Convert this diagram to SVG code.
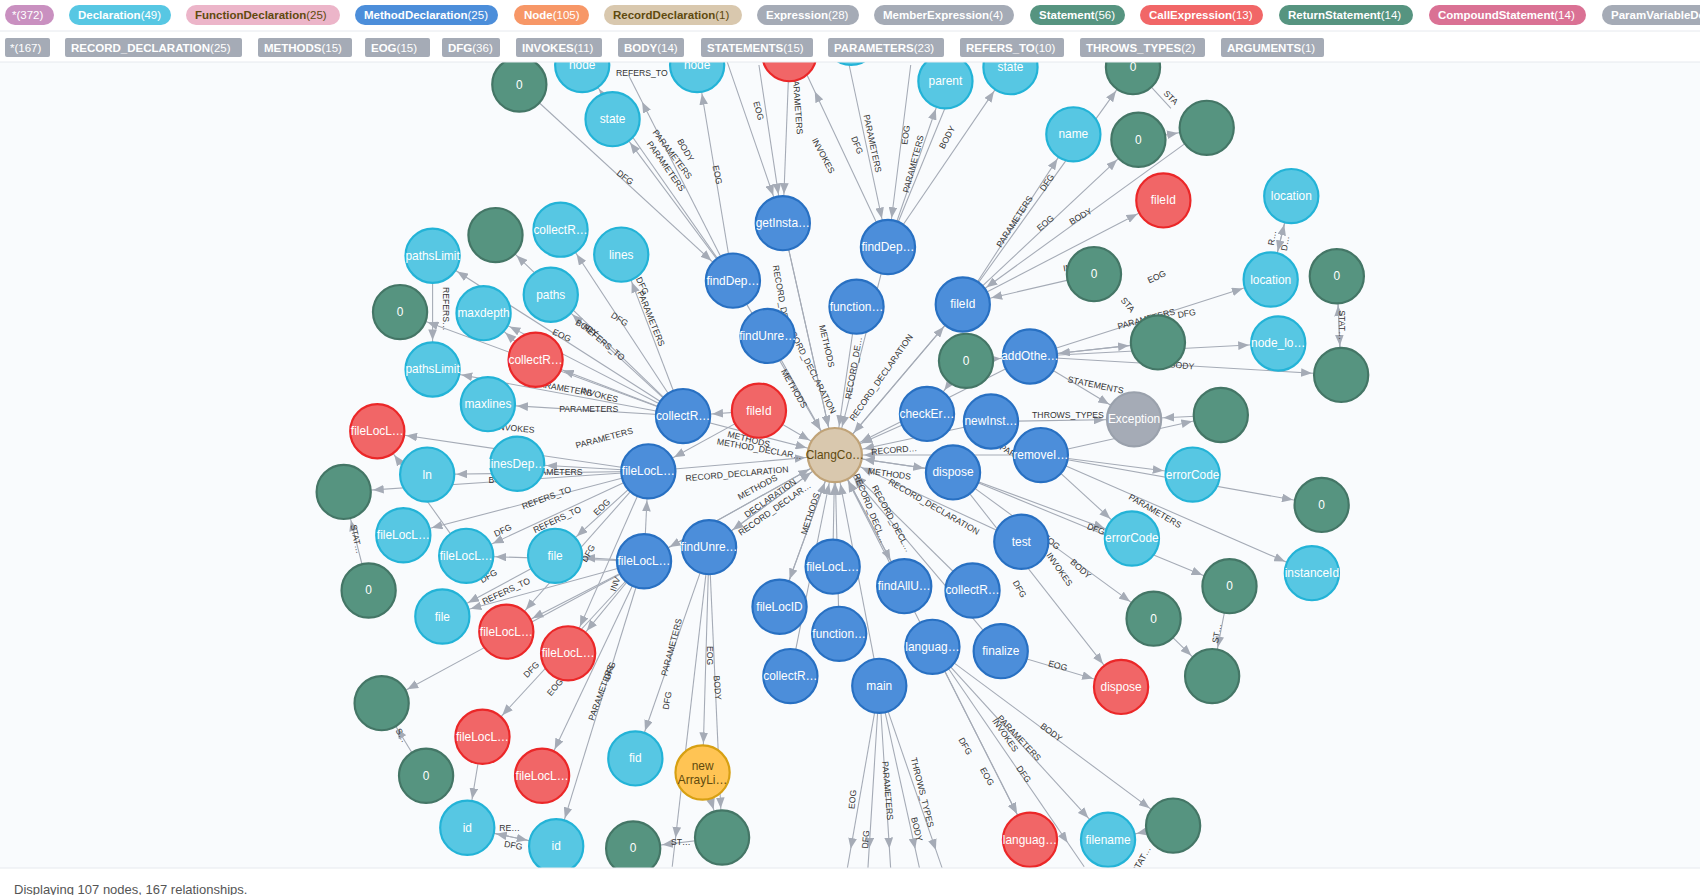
<svg xmlns="http://www.w3.org/2000/svg" width="1700" height="895" viewBox="0 0 1700 895">
<style>
text{font-family:"Liberation Sans",Arial,sans-serif}
.e line{stroke:#A5ABB6;stroke-width:1;fill:none}
.el{font-size:8px;fill:#333;text-anchor:middle}
.n circle{stroke-width:2}
.n text{font-size:11px;fill:#fff;text-anchor:middle;dominant-baseline:central}
.m circle{fill:#4C8EDA;stroke:#2870C2}
.d circle{fill:#57C7E3;stroke:#23B3D7}
.s circle{fill:#569480;stroke:#447666}
.c circle{fill:#F16667;stroke:#EB2728}
.r circle{fill:#D9C8AE;stroke:#C0A378}
.r text{fill:#604A0E}
.x circle{fill:#A5ABB6;stroke:#9AA1AC}
.o circle{fill:#FFC454;stroke:#D7A013}
.o text{fill:#604A0E}
.pill{font-size:11.5px;dominant-baseline:central}
.rel rect{fill:#A5ABB6}
.rel text{fill:#fff;font-size:11.5px;dominant-baseline:central}
</style>
<defs>
<marker id="a" markerUnits="userSpaceOnUse" viewBox="0 0 10 8" markerWidth="10" markerHeight="8" refX="37" refY="4" orient="auto"><path d="M0,0L10,4L0,8z" fill="#A5ABB6"/></marker>
</defs>
<rect width="1700" height="895" fill="#F9FBFD"/>
<g transform="scale(1.0842,1.0835)">
<g id="connectors" class="e" marker-end="url(#a)">
<line x1="630" y1="384" x2="770" y2="420"/><line x1="700" y1="379" x2="770" y2="420"/><line x1="598" y1="435" x2="770" y2="420"/>
<line x1="770" y1="420" x2="594" y2="518"/><line x1="594" y1="518" x2="770" y2="420"/><line x1="654" y1="505" x2="770" y2="420"/><line x1="770" y1="420" x2="654" y2="505"/>
<line x1="768" y1="523" x2="770" y2="420"/><line x1="770" y1="420" x2="719" y2="560"/><line x1="719" y1="560" x2="770" y2="420"/><line x1="834" y1="541" x2="770" y2="420"/><line x1="770" y1="420" x2="834" y2="541"/>
<line x1="897" y1="545" x2="770" y2="420"/><line x1="774" y1="585" x2="770" y2="420"/><line x1="860" y1="597" x2="770" y2="420"/><line x1="879" y1="436" x2="770" y2="420"/><line x1="770" y1="420" x2="879" y2="436"/>
<line x1="855" y1="382" x2="770" y2="420"/><line x1="914" y1="389" x2="770" y2="420"/><line x1="960" y1="420" x2="770" y2="420"/><line x1="942" y1="500" x2="770" y2="420"/>
<line x1="708" y1="310" x2="770" y2="420"/><line x1="790" y1="283" x2="770" y2="420"/><line x1="888" y1="281" x2="770" y2="420"/><line x1="770" y1="420" x2="888" y2="281"/><line x1="819" y1="228" x2="770" y2="420"/>
<line x1="722" y1="206" x2="770" y2="420"/><line x1="676" y1="259" x2="770" y2="420"/><line x1="950" y1="329" x2="770" y2="420"/><line x1="811" y1="633" x2="770" y2="420"/><line x1="729" y1="624" x2="770" y2="420"/><line x1="923" y1="601" x2="770" y2="420"/>
<line x1="700" y1="379" x2="630" y2="384"/><line x1="700" y1="379" x2="598" y2="435"/>
<line x1="728" y1="52" x2="722" y2="206"/><line x1="670" y1="55" x2="722" y2="206"/><line x1="700" y1="60" x2="722" y2="206"/><line x1="722" y1="206" x2="770" y2="420"/>
<line x1="780" y1="45" x2="819" y2="228"/><line x1="840" y1="60" x2="819" y2="228"/><line x1="819" y1="228" x2="872" y2="75"/><line x1="819" y1="228" x2="932" y2="62"/><line x1="819" y1="228" x2="740" y2="60"/><line x1="819" y1="228" x2="892" y2="50"/>
<line x1="676" y1="259" x2="643" y2="60"/><line x1="676" y1="259" x2="537" y2="60"/><line x1="676" y1="259" x2="565" y2="110"/><line x1="479" y1="78" x2="676" y2="259"/><line x1="676" y1="259" x2="580" y2="70"/>
<line x1="888" y1="281" x2="990" y2="124"/><line x1="888" y1="281" x2="1045" y2="62"/><line x1="888" y1="281" x2="1050" y2="129"/><line x1="888" y1="281" x2="1073" y2="185"/><line x1="1009" y1="253" x2="888" y2="281"/><line x1="1113" y1="118" x2="888" y2="281"/>
<line x1="950" y1="329" x2="1172" y2="258"/><line x1="950" y1="329" x2="1179" y2="317"/><line x1="950" y1="329" x2="1068" y2="316"/><line x1="950" y1="329" x2="1237" y2="346"/><line x1="1068" y1="316" x2="950" y2="329"/><line x1="891" y1="333" x2="950" y2="329"/>
<line x1="1191" y1="181" x2="1172" y2="258"/><line x1="1172" y1="258" x2="1191" y2="181"/><line x1="1233" y1="255" x2="1237" y2="346"/><line x1="1237" y1="346" x2="1233" y2="255"/>
<line x1="914" y1="389" x2="1046" y2="387"/><line x1="950" y1="329" x2="1046" y2="387"/><line x1="1126" y1="383" x2="1046" y2="387"/><line x1="1050" y1="129" x2="1113" y2="118"/><line x1="1045" y1="62" x2="1080" y2="100"/>
<line x1="960" y1="420" x2="1100" y2="438"/><line x1="960" y1="420" x2="1219" y2="466"/><line x1="960" y1="420" x2="1210" y2="529"/><line x1="960" y1="420" x2="1044" y2="497"/><line x1="960" y1="420" x2="1126" y2="383"/>
<line x1="879" y1="436" x2="1064" y2="571"/><line x1="879" y1="436" x2="1034" y2="634"/><line x1="879" y1="436" x2="1044" y2="497"/><line x1="879" y1="436" x2="1134" y2="541"/><line x1="891" y1="333" x2="855" y2="382"/>
<line x1="1134" y1="541" x2="1118" y2="624"/><line x1="1064" y1="571" x2="1118" y2="624"/><line x1="923" y1="601" x2="1034" y2="634"/>
<line x1="860" y1="597" x2="950" y2="775"/><line x1="860" y1="597" x2="950" y2="775"/><line x1="860" y1="597" x2="1022" y2="775"/><line x1="860" y1="597" x2="1082" y2="762"/><line x1="870" y1="610" x2="1000" y2="800"/><line x1="1082" y1="762" x2="1022" y2="775"/>
<line x1="811" y1="633" x2="800" y2="810"/><line x1="811" y1="633" x2="822" y2="810"/><line x1="811" y1="633" x2="850" y2="810"/><line x1="811" y1="633" x2="872" y2="810"/><line x1="811" y1="633" x2="780" y2="810"/>
<line x1="654" y1="505" x2="586" y2="700"/><line x1="654" y1="505" x2="648" y2="713"/><line x1="654" y1="505" x2="666" y2="773"/><line x1="648" y1="713" x2="666" y2="773"/><line x1="666" y1="773" x2="584" y2="783"/><line x1="654" y1="505" x2="620" y2="800"/>
<line x1="594" y1="518" x2="524" y2="603"/><line x1="594" y1="518" x2="467" y2="583"/><line x1="594" y1="518" x2="445" y2="680"/><line x1="594" y1="518" x2="500" y2="716"/><line x1="594" y1="518" x2="513" y2="781"/><line x1="594" y1="518" x2="352" y2="649"/><line x1="594" y1="518" x2="408" y2="569"/><line x1="594" y1="518" x2="512" y2="513"/><line x1="594" y1="518" x2="430" y2="513"/><line x1="594" y1="518" x2="598" y2="435"/>
<line x1="598" y1="435" x2="394" y2="438"/><line x1="598" y1="435" x2="477" y2="428"/><line x1="598" y1="435" x2="348" y2="398"/><line x1="598" y1="435" x2="317" y2="454"/><line x1="598" y1="435" x2="372" y2="494"/><line x1="598" y1="435" x2="430" y2="513"/><line x1="598" y1="435" x2="512" y2="513"/><line x1="598" y1="435" x2="467" y2="583"/><line x1="598" y1="435" x2="524" y2="603"/>
<line x1="630" y1="384" x2="450" y2="373"/><line x1="630" y1="384" x2="494" y2="332"/><line x1="630" y1="384" x2="446" y2="289"/><line x1="630" y1="384" x2="508" y2="272"/><line x1="630" y1="384" x2="573" y2="235"/><line x1="630" y1="384" x2="517" y2="212"/><line x1="630" y1="384" x2="399" y2="341"/><line x1="630" y1="384" x2="399" y2="236"/><line x1="630" y1="384" x2="457" y2="217"/><line x1="630" y1="384" x2="369" y2="288"/>
<line x1="431" y1="764" x2="513" y2="781"/><line x1="513" y1="781" x2="431" y2="764"/><line x1="393" y1="716" x2="352" y2="649"/><line x1="340" y1="545" x2="317" y2="454"/><line x1="399" y1="236" x2="399" y2="341"/><line x1="512" y1="513" x2="408" y2="569"/><line x1="494" y1="332" x2="446" y2="289"/><line x1="430" y1="513" x2="348" y2="398"/><line x1="445" y1="680" x2="431" y2="764"/>
</g>
<g class="el">
<text x="690" y="408" transform="rotate(14 690 408)">METHODS</text>
<text x="700" y="417" transform="rotate(10 700 417)">METHOD_DECLAR…</text>
<text x="680" y="440" transform="rotate(-5 680 440)">RECORD_DECLARATION</text>
<text x="700" y="452" transform="rotate(-28 700 452)">METHODS</text>
<text x="712" y="462" transform="rotate(-35 712 462)">DECLARATION</text>
<text x="716" y="472" transform="rotate(-35 716 472)">RECORD_DECLAR…</text>
<text x="750" y="475" transform="rotate(-72 750 475)">METHODS</text>
<text x="800" y="470" transform="rotate(68 800 470)">RECORD_DECL…</text>
<text x="820" y="480" transform="rotate(62 820 480)">RECORD_DECL…</text>
<text x="860" y="470" transform="rotate(30 860 470)">RECORD_DECLARATION</text>
<text x="820" y="440" transform="rotate(8 820 440)">METHODS</text>
<text x="825" y="418" transform="rotate(-5 825 418)">RECORD…</text>
<text x="815" y="350" transform="rotate(-55 815 350)">RECORD_DECLARATION</text>
<text x="790" y="340" transform="rotate(-80 790 340)">RECORD_DE…</text>
<text x="745" y="340" transform="rotate(63 745 340)">RECORD_DECLARATION</text>
<text x="730" y="360" transform="rotate(60 730 360)">METHODS</text>
<text x="760" y="320" transform="rotate(77 760 320)">METHODS</text>
<text x="985" y="386">THROWS_TYPES</text>
<text x="1010" y="358" transform="rotate(12 1010 358)">STATEMENTS</text>
<text x="1058" y="297" transform="rotate(-15 1058 297)">PARAMETERS</text>
<text x="1095" y="292" transform="rotate(-10 1095 292)">DFG</text>
<text x="1068" y="258" transform="rotate(-25 1068 258)">EOG</text>
<text x="1090" y="340" transform="rotate(5 1090 340)">BODY</text>
<text x="938" y="206" transform="rotate(-57 938 206)">PARAMETERS</text>
<text x="968" y="170" transform="rotate(-55 968 170)">DFG</text>
<text x="966" y="208" transform="rotate(-40 966 208)">EOG</text>
<text x="998" y="202" transform="rotate(-30 998 202)">BODY</text>
<text x="985" y="250" transform="rotate(-10 985 250)">IN</text>
<text x="1038" y="283" transform="rotate(50 1038 283)">STA</text>
<text x="1078" y="92" transform="rotate(45 1078 92)">STA</text>
<text x="612" y="155" transform="rotate(55 612 155)">PARAMETERS</text>
<text x="618" y="144" transform="rotate(53 618 144)">PARAMETERS</text>
<text x="630" y="140" transform="rotate(60 630 140)">BODY</text>
<text x="659" y="162" transform="rotate(78 659 162)">EOG</text>
<text x="575" y="166" transform="rotate(37 575 166)">DFG</text>
<text x="592" y="70">REFERS_TO</text>
<text x="697" y="103" transform="rotate(75 697 103)">EOG</text>
<text x="733" y="97" transform="rotate(86 733 97)">PARAMETERS</text>
<text x="757" y="145" transform="rotate(62 757 145)">INVOKES</text>
<text x="788" y="135" transform="rotate(68 788 135)">DFG</text>
<text x="802" y="133" transform="rotate(78 802 133)">PARAMETERS</text>
<text x="838" y="125" transform="rotate(-82 838 125)">EOG</text>
<text x="845" y="152" transform="rotate(-75 845 152)">PARAMETERS</text>
<text x="876" y="128" transform="rotate(-62 876 128)">BODY</text>
<text x="718" y="275" transform="rotate(80 718 275)">RECORD_DECL</text>
<text x="543" y="380">PARAMETERS</text>
<text x="552" y="367" transform="rotate(15 552 367)">INVOKES</text>
<text x="519" y="361" transform="rotate(10 519 361)">PARAMETERS</text>
<text x="555" y="318" transform="rotate(40 555 318)">REFERS_TO</text>
<text x="540" y="305" transform="rotate(30 540 305)">BODY</text>
<text x="517" y="312" transform="rotate(25 517 312)">EOG</text>
<text x="570" y="297" transform="rotate(33 570 297)">DFG</text>
<text x="598" y="295" transform="rotate(68 598 295)">PARAMETERS</text>
<text x="590" y="265" transform="rotate(65 590 265)">DFG</text>
<text x="558" y="407" transform="rotate(-15 558 407)">PARAMETERS</text>
<text x="475" y="398" transform="rotate(5 475 398)">INVOKES</text>
<text x="510" y="438">PARAMETERS</text>
<text x="462" y="446">BODY</text>
<text x="505" y="462" transform="rotate(-20 505 462)">REFERS_TO</text>
<text x="515" y="482" transform="rotate(-25 515 482)">REFERS_TO</text>
<text x="557" y="470" transform="rotate(-45 557 470)">EOG</text>
<text x="465" y="492" transform="rotate(-25 465 492)">DFG</text>
<text x="468" y="548" transform="rotate(-25 468 548)">REFERS_TO</text>
<text x="452" y="534" transform="rotate(-30 452 534)">DFG</text>
<text x="545" y="512" transform="rotate(-60 545 512)">DFG</text>
<text x="492" y="620" transform="rotate(-45 492 620)">DFG</text>
<text x="514" y="636" transform="rotate(-50 514 636)">EOG</text>
<text x="557" y="640" transform="rotate(-70 557 640)">PARAMETERS</text>
<text x="565" y="620" transform="rotate(-70 565 620)">DFG</text>
<text x="570" y="540" transform="rotate(-70 570 540)">INV</text>
<text x="622" y="598" transform="rotate(-75 622 598)">PARAMETERS</text>
<text x="618" y="647" transform="rotate(-80 618 647)">DFG</text>
<text x="652" y="605" transform="rotate(90 652 605)">EOG</text>
<text x="659" y="635" transform="rotate(85 659 635)">BODY</text>
<text x="628" y="780">ST…</text>
<text x="470" y="767">RE…</text>
<text x="473" y="783" transform="rotate(10 473 783)">DFG</text>
<text x="368" y="680" transform="rotate(60 368 680)">S…</text>
<text x="326" y="498" transform="rotate(78 326 498)">STAT…</text>
<text x="409" y="285" transform="rotate(90 409 285)">REFERS…</text>
<text x="789" y="738" transform="rotate(-85 789 738)">EOG</text>
<text x="801" y="775" transform="rotate(-85 801 775)">DFG</text>
<text x="816" y="730" transform="rotate(85 816 730)">PARAMETERS</text>
<text x="848" y="732" transform="rotate(76 848 732)">THROWS_TYPES</text>
<text x="843" y="766" transform="rotate(76 843 766)">BODY</text>
<text x="888" y="690" transform="rotate(60 888 690)">DFG</text>
<text x="908" y="718" transform="rotate(60 908 718)">EOG</text>
<text x="925" y="680" transform="rotate(55 925 680)">INVOKES</text>
<text x="938" y="683" transform="rotate(47 938 683)">PARAMETERS</text>
<text x="942" y="716" transform="rotate(55 942 716)">DFG</text>
<text x="968" y="678" transform="rotate(37 968 678)">BODY</text>
<text x="975" y="617" transform="rotate(15 975 617)">EOG</text>
<text x="938" y="545" transform="rotate(60 938 545)">DFG</text>
<text x="995" y="527" transform="rotate(42 995 527)">BODY</text>
<text x="975" y="527" transform="rotate(55 975 527)">INVOKES</text>
<text x="968" y="502" transform="rotate(40 968 502)">EOG</text>
<text x="1064" y="474" transform="rotate(30 1064 474)">PARAMETERS</text>
<text x="1010" y="491" transform="rotate(20 1010 491)">DFG</text>
<text x="945" y="428" transform="rotate(30 945 428)">PARAMETERS</text>
<text x="1125" y="585" transform="rotate(-80 1125 585)">ST…</text>
<text x="1055" y="795" transform="rotate(-60 1055 795)">STAT…</text>
<text x="1176" y="220" transform="rotate(-80 1176 220)">R…</text>
<text x="1188" y="225" transform="rotate(-80 1188 225)">D…</text>
<text x="1235" y="300" transform="rotate(90 1235 300)">STAT…</text>
</g>
<g class="n d" id="n1"><circle cx="537" cy="60" r="25"/><text x="537" y="60">node</text></g>
<g class="n d" id="n2"><circle cx="643" cy="60" r="25"/><text x="643" y="60">node</text></g>
<g class="n c" id="n3"><circle cx="728" cy="50" r="25"/></g>
<g class="n d" id="n4"><circle cx="785" cy="35" r="25"/></g>
<g class="n s" id="n5"><circle cx="479" cy="78" r="25"/><text x="479" y="78">0</text></g>
<g class="n d" id="n6"><circle cx="872" cy="75" r="25"/><text x="872" y="75">parent</text></g>
<g class="n d" id="n7"><circle cx="932" cy="62" r="25"/><text x="932" y="62">state</text></g>
<g class="n s" id="n8"><circle cx="1045" cy="62" r="25"/><text x="1045" y="62">0</text></g>
<g class="n s" id="n9"><circle cx="1113" cy="118" r="25"/></g>
<g class="n d" id="n10"><circle cx="990" cy="124" r="25"/><text x="990" y="124">name</text></g>
<g class="n s" id="n11"><circle cx="1050" cy="129" r="25"/><text x="1050" y="129">0</text></g>
<g class="n c" id="n12"><circle cx="1073" cy="185" r="25"/><text x="1073" y="185">fileId</text></g>
<g class="n d" id="n13"><circle cx="1191" cy="181" r="25"/><text x="1191" y="181">location</text></g>
<g class="n d" id="n14"><circle cx="1172" cy="258" r="25"/><text x="1172" y="258">location</text></g>
<g class="n s" id="n15"><circle cx="1233" cy="255" r="25"/><text x="1233" y="255">0</text></g>
<g class="n s" id="n16"><circle cx="1009" cy="253" r="25"/><text x="1009" y="253">0</text></g>
<g class="n d" id="n17"><circle cx="1179" cy="317" r="25"/><text x="1179" y="317">node_lo…</text></g>
<g class="n s" id="n18"><circle cx="1068" cy="316" r="25"/></g>
<g class="n s" id="n19"><circle cx="1237" cy="346" r="25"/></g>
<g class="n d" id="n20"><circle cx="565" cy="110" r="25"/><text x="565" y="110">state</text></g>
<g class="n m" id="n21"><circle cx="722" cy="206" r="25"/><text x="722" y="206">getInsta…</text></g>
<g class="n m" id="n22"><circle cx="819" cy="228" r="25"/><text x="819" y="228">findDep…</text></g>
<g class="n m" id="n23"><circle cx="676" cy="259" r="25"/><text x="676" y="259">findDep…</text></g>
<g class="n m" id="n24"><circle cx="790" cy="283" r="25"/><text x="790" y="283">function…</text></g>
<g class="n m" id="n25"><circle cx="708" cy="310" r="25"/><text x="708" y="310">findUnre…</text></g>
<g class="n m" id="n26"><circle cx="888" cy="281" r="25"/><text x="888" y="281">fileId</text></g>
<g class="n s" id="n27"><circle cx="891" cy="333" r="25"/><text x="891" y="333">0</text></g>
<g class="n m" id="n28"><circle cx="950" cy="329" r="25"/><text x="950" y="329">addOthe…</text></g>
<g class="n d" id="n29"><circle cx="517" cy="212" r="25"/><text x="517" y="212">collectR…</text></g>
<g class="n s" id="n30"><circle cx="457" cy="217" r="25"/></g>
<g class="n d" id="n31"><circle cx="573" cy="235" r="25"/><text x="573" y="235">lines</text></g>
<g class="n d" id="n32"><circle cx="399" cy="236" r="25"/><text x="399" y="236">pathsLimit</text></g>
<g class="n d" id="n33"><circle cx="508" cy="272" r="25"/><text x="508" y="272">paths</text></g>
<g class="n s" id="n34"><circle cx="369" cy="288" r="25"/><text x="369" y="288">0</text></g>
<g class="n d" id="n35"><circle cx="446" cy="289" r="25"/><text x="446" y="289">maxdepth</text></g>
<g class="n c" id="n36"><circle cx="494" cy="332" r="25"/><text x="494" y="332">collectR…</text></g>
<g class="n d" id="n37"><circle cx="399" cy="341" r="25"/><text x="399" y="341">pathsLimit</text></g>
<g class="n d" id="n38"><circle cx="450" cy="373" r="25"/><text x="450" y="373">maxlines</text></g>
<g class="n m" id="n39"><circle cx="630" cy="384" r="25"/><text x="630" y="384">collectR…</text></g>
<g class="n c" id="n40"><circle cx="700" cy="379" r="25"/><text x="700" y="379">fileId</text></g>
<g class="n r" id="n41"><circle cx="770" cy="420" r="25"/><text x="770" y="420">ClangCo…</text></g>
<g class="n m" id="n42"><circle cx="855" cy="382" r="25"/><text x="855" y="382">checkEr…</text></g>
<g class="n m" id="n43"><circle cx="914" cy="389" r="25"/><text x="914" y="389">newInst…</text></g>
<g class="n x" id="n44"><circle cx="1046" cy="387" r="25"/><text x="1046" y="387">Exception</text></g>
<g class="n s" id="n45"><circle cx="1126" cy="383" r="25"/></g>
<g class="n m" id="n46"><circle cx="960" cy="420" r="25"/><text x="960" y="420">removeI…</text></g>
<g class="n d" id="n47"><circle cx="1100" cy="438" r="25"/><text x="1100" y="438">errorCode</text></g>
<g class="n s" id="n48"><circle cx="1219" cy="466" r="25"/><text x="1219" y="466">0</text></g>
<g class="n m" id="n49"><circle cx="879" cy="436" r="25"/><text x="879" y="436">dispose</text></g>
<g class="n c" id="n50"><circle cx="348" cy="398" r="25"/><text x="348" y="398">fileLocL…</text></g>
<g class="n d" id="n51"><circle cx="394" cy="438" r="25"/><text x="394" y="438">ln</text></g>
<g class="n d" id="n52"><circle cx="477" cy="428" r="25"/><text x="477" y="428">linesDep…</text></g>
<g class="n m" id="n53"><circle cx="598" cy="435" r="25"/><text x="598" y="435">fileLocL…</text></g>
<g class="n s" id="n54"><circle cx="317" cy="454" r="25"/></g>
<g class="n d" id="n55"><circle cx="372" cy="494" r="25"/><text x="372" y="494">fileLocL…</text></g>
<g class="n d" id="n56"><circle cx="430" cy="513" r="25"/><text x="430" y="513">fileLocL…</text></g>
<g class="n d" id="n57"><circle cx="512" cy="513" r="25"/><text x="512" y="513">file</text></g>
<g class="n m" id="n58"><circle cx="942" cy="500" r="25"/><text x="942" y="500">test</text></g>
<g class="n d" id="n59"><circle cx="1044" cy="497" r="25"/><text x="1044" y="497">errorCode</text></g>
<g class="n d" id="n60"><circle cx="1210" cy="529" r="25"/><text x="1210" y="529">instanceId</text></g>
<g class="n s" id="n61"><circle cx="1134" cy="541" r="25"/><text x="1134" y="541">0</text></g>
<g class="n s" id="n62"><circle cx="340" cy="545" r="25"/><text x="340" y="545">0</text></g>
<g class="n d" id="n63"><circle cx="408" cy="569" r="25"/><text x="408" y="569">file</text></g>
<g class="n m" id="n64"><circle cx="594" cy="518" r="25"/><text x="594" y="518">fileLocL…</text></g>
<g class="n m" id="n65"><circle cx="654" cy="505" r="25"/><text x="654" y="505">findUnre…</text></g>
<g class="n m" id="n66"><circle cx="768" cy="523" r="25"/><text x="768" y="523">fileLocL…</text></g>
<g class="n m" id="n67"><circle cx="719" cy="560" r="25"/><text x="719" y="560">fileLocID</text></g>
<g class="n m" id="n68"><circle cx="834" cy="541" r="25"/><text x="834" y="541">findAllU…</text></g>
<g class="n m" id="n69"><circle cx="897" cy="545" r="25"/><text x="897" y="545">collectR…</text></g>
<g class="n s" id="n70"><circle cx="1064" cy="571" r="25"/><text x="1064" y="571">0</text></g>
<g class="n c" id="n71"><circle cx="467" cy="583" r="25"/><text x="467" y="583">fileLocL…</text></g>
<g class="n c" id="n72"><circle cx="524" cy="603" r="25"/><text x="524" y="603">fileLocL…</text></g>
<g class="n m" id="n73"><circle cx="774" cy="585" r="25"/><text x="774" y="585">function…</text></g>
<g class="n m" id="n74"><circle cx="860" cy="597" r="25"/><text x="860" y="597">languag…</text></g>
<g class="n m" id="n75"><circle cx="923" cy="601" r="25"/><text x="923" y="601">finalize</text></g>
<g class="n c" id="n76"><circle cx="1034" cy="634" r="25"/><text x="1034" y="634">dispose</text></g>
<g class="n s" id="n77"><circle cx="1118" cy="624" r="25"/></g>
<g class="n m" id="n78"><circle cx="729" cy="624" r="25"/><text x="729" y="624">collectR…</text></g>
<g class="n m" id="n79"><circle cx="811" cy="633" r="25"/><text x="811" y="633">main</text></g>
<g class="n s" id="n80"><circle cx="352" cy="649" r="25"/></g>
<g class="n c" id="n81"><circle cx="445" cy="680" r="25"/><text x="445" y="680">fileLocL…</text></g>
<g class="n d" id="n82"><circle cx="586" cy="700" r="25"/><text x="586" y="700">fid</text></g>
<g class="n o" id="n83"><circle cx="648" cy="713" r="25"/><text x="648" y="707">new</text><text x="648" y="720">ArrayLi…</text></g>
<g class="n c" id="n84"><circle cx="500" cy="716" r="25"/><text x="500" y="716">fileLocL…</text></g>
<g class="n s" id="n85"><circle cx="393" cy="716" r="25"/><text x="393" y="716">0</text></g>
<g class="n d" id="n86"><circle cx="431" cy="764" r="25"/><text x="431" y="764">id</text></g>
<g class="n d" id="n87"><circle cx="513" cy="781" r="25"/><text x="513" y="781">id</text></g>
<g class="n s" id="n88"><circle cx="584" cy="783" r="25"/><text x="584" y="783">0</text></g>
<g class="n s" id="n89"><circle cx="666" cy="773" r="25"/></g>
<g class="n c" id="n90"><circle cx="950" cy="775" r="25"/><text x="950" y="775">languag…</text></g>
<g class="n d" id="n91"><circle cx="1022" cy="775" r="25"/><text x="1022" y="775">filename</text></g>
<g class="n s" id="n92"><circle cx="1082" cy="762" r="25"/></g>
</g>
<rect x="0" y="0" width="1700" height="62" fill="#fff"/>
<line x1="0" y1="31" x2="1700" y2="31" stroke="#E6E9EE"/>
<line x1="0" y1="62" x2="1700" y2="62" stroke="#E6E9EE"/>
<rect x="0" y="868" width="1700" height="27" fill="#fff"/>
<line x1="0" y1="868" x2="1700" y2="868" stroke="#E6E9EE"/>
<text x="14" y="894" font-size="13" fill="#555">Displaying 107 nodes, 167 relationships.</text>
<g id="legend-labels" class="pill">
<rect x="5" y="5" width="49" height="20" rx="10" fill="#C990C0"/><text x="12" y="15" fill="#fff">*(372)</text>
<rect x="69" y="5" width="102" height="20" rx="10" fill="#57C7E3"/><text x="78" y="15" fill="#fff"><tspan font-weight="bold">Declaration</tspan>(49)</text>
<rect x="186" y="5" width="154" height="20" rx="10" fill="#ECB5C9"/><text x="195" y="15" fill="#604A0E"><tspan font-weight="bold">FunctionDeclaration</tspan>(25)</text>
<rect x="355" y="5" width="143" height="20" rx="10" fill="#4C8EDA"/><text x="364" y="15" fill="#fff"><tspan font-weight="bold">MethodDeclaration</tspan>(25)</text>
<rect x="514" y="5" width="75" height="20" rx="10" fill="#F79767"/><text x="524" y="15" fill="#fff"><tspan font-weight="bold">Node</tspan>(105)</text>
<rect x="604" y="5" width="138" height="20" rx="10" fill="#D9C8AE"/><text x="613" y="15" fill="#604A0E"><tspan font-weight="bold">RecordDeclaration</tspan>(1)</text>
<rect x="757" y="5" width="102" height="20" rx="10" fill="#A5ABB6"/><text x="766" y="15" fill="#fff"><tspan font-weight="bold">Expression</tspan>(28)</text>
<rect x="874" y="5" width="140" height="20" rx="10" fill="#A5ABB6"/><text x="883" y="15" fill="#fff"><tspan font-weight="bold">MemberExpression</tspan>(4)</text>
<rect x="1030" y="5" width="95" height="20" rx="10" fill="#569480"/><text x="1039" y="15" fill="#fff"><tspan font-weight="bold">Statement</tspan>(56)</text>
<rect x="1140" y="5" width="123" height="20" rx="10" fill="#F16667"/><text x="1149" y="15" fill="#fff"><tspan font-weight="bold">CallExpression</tspan>(13)</text>
<rect x="1279" y="5" width="134" height="20" rx="10" fill="#569480"/><text x="1288" y="15" fill="#fff"><tspan font-weight="bold">ReturnStatement</tspan>(14)</text>
<rect x="1429" y="5" width="157" height="20" rx="10" fill="#DA7194"/><text x="1438" y="15" fill="#fff"><tspan font-weight="bold">CompoundStatement</tspan>(14)</text>
<rect x="1602" y="5" width="140" height="20" rx="10" fill="#A5ABB6"/><text x="1611" y="15" fill="#fff"><tspan font-weight="bold">ParamVariableDeclaration</tspan></text>
</g>
<g id="legend-rels" class="rel">
<rect x="5" y="38" width="45" height="19" rx="2"/><text x="10" y="47.5">*(167)</text>
<rect x="65" y="38" width="177" height="19" rx="2"/><text x="71" y="47.5"><tspan font-weight="bold">RECORD_DECLARATION</tspan>(25)</text>
<rect x="258" y="38" width="94" height="19" rx="2"/><text x="264" y="47.5"><tspan font-weight="bold">METHODS</tspan>(15)</text>
<rect x="365" y="38" width="65" height="19" rx="2"/><text x="371" y="47.5"><tspan font-weight="bold">EOG</tspan>(15)</text>
<rect x="442" y="38" width="58" height="19" rx="2"/><text x="448" y="47.5"><tspan font-weight="bold">DFG</tspan>(36)</text>
<rect x="516" y="38" width="86" height="19" rx="2"/><text x="522" y="47.5"><tspan font-weight="bold">INVOKES</tspan>(11)</text>
<rect x="618" y="38" width="66" height="19" rx="2"/><text x="624" y="47.5"><tspan font-weight="bold">BODY</tspan>(14)</text>
<rect x="701" y="38" width="112" height="19" rx="2"/><text x="707" y="47.5"><tspan font-weight="bold">STATEMENTS</tspan>(15)</text>
<rect x="828" y="38" width="116" height="19" rx="2"/><text x="834" y="47.5"><tspan font-weight="bold">PARAMETERS</tspan>(23)</text>
<rect x="960" y="38" width="104" height="19" rx="2"/><text x="966" y="47.5"><tspan font-weight="bold">REFERS_TO</tspan>(10)</text>
<rect x="1080" y="38" width="125" height="19" rx="2"/><text x="1086" y="47.5"><tspan font-weight="bold">THROWS_TYPES</tspan>(2)</text>
<rect x="1221" y="38" width="103" height="19" rx="2"/><text x="1227" y="47.5"><tspan font-weight="bold">ARGUMENTS</tspan>(1)</text>
</g>
</svg>
